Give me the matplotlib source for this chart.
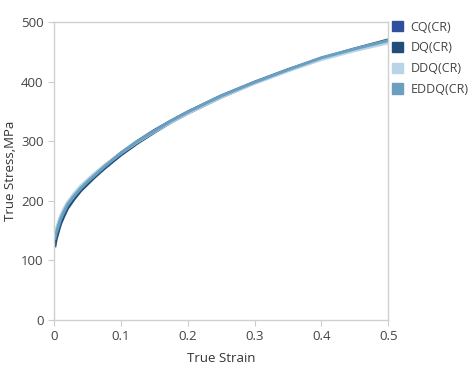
import matplotlib.pyplot as plt
from matplotlib.patches import Patch

plt.rcParams['font.family'] = ['Open Sans', 'DejaVu Sans']

strain = [0.001, 0.003, 0.005, 0.0075, 0.01, 0.015, 0.02, 0.03, 0.04,
          0.05, 0.06, 0.075, 0.1, 0.125, 0.15, 0.175, 0.2, 0.25,
          0.3, 0.35, 0.4, 0.45, 0.5]
stress_cq = [138, 148, 155, 164, 172, 184, 195, 210, 223,
             234, 244, 258, 280, 300, 318, 334, 349, 376,
             399, 420, 439, 454, 467]
stress_dq = [122, 135, 143, 153, 162, 175, 187, 203, 217,
             228, 239, 254, 277, 297, 315, 332, 347, 374,
             398, 419, 439, 455, 470]
stress_ddq = [140, 150, 158, 167, 175, 187, 197, 212, 225,
              235, 245, 259, 280, 299, 316, 332, 347, 374,
              397, 418, 437, 452, 465]
stress_eddq = [135, 145, 152, 161, 170, 182, 193, 208, 221,
               232, 242, 257, 280, 300, 317, 334, 349, 376,
               399, 420, 440, 455, 469]

names = ["CQ(CR)", "DQ(CR)", "DDQ(CR)", "EDDQ(CR)"]
colors = ["#2f4f9f", "#1f4e79", "#b8d4e6", "#6a9fc0"]
series = [stress_cq, stress_dq, stress_ddq, stress_eddq]

fig = plt.figure(figsize=(4.74, 3.8), dpi=100)
ax = fig.add_axes([0.114, 0.158, 0.705, 0.784])

for s, c in zip(series, colors):
    ax.plot(strain, s, color=c, lw=2.2, solid_capstyle='butt')

ax.set_xlim(0, 0.5)
ax.set_ylim(0, 500)
ax.set_xticks([0, 0.1, 0.2, 0.3, 0.4, 0.5])
ax.set_xticklabels(["0", "0.1", "0.2", "0.3", "0.4", "0.5"])
ax.set_yticks([0, 100, 200, 300, 400, 500])
for sp in ax.spines.values():
    sp.set_color("#d0d0d0")
    sp.set_linewidth(1)
ax.tick_params(colors="#cccccc", labelcolor="#444444", labelsize=9.5, length=4)
ax.set_xlabel("True Strain", fontsize=9.5, color="#333333", labelpad=6)
ax.set_ylabel("True Stress,MPa", fontsize=9.5, color="#333333", labelpad=3)

handles = [Patch(facecolor=c, edgecolor=c) for c in colors]
ax.legend(handles, names, loc="upper left", bbox_to_anchor=(1.01, 1.005),
          frameon=False, fontsize=9, handlelength=0.9, handleheight=0.9,
          handletextpad=0.6, labelspacing=0.62, labelcolor="#444444",
          borderaxespad=0, borderpad=0)

fig.savefig("out.png", dpi=100)
